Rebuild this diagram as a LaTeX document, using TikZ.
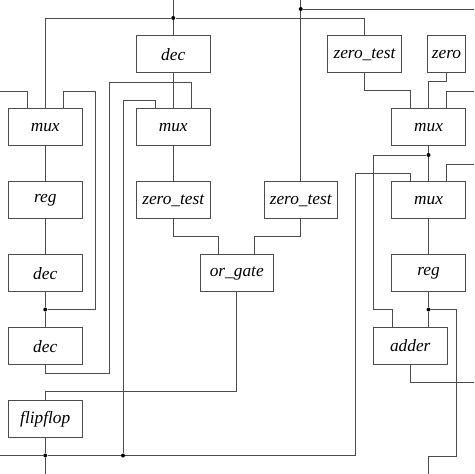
\documentclass[tikz,border=0pt]{standalone}
\usepackage{fontspec}
\setmainfont{Liberation Serif}
\usetikzlibrary{positioning}

\begin{document}
\begin{tikzpicture}[
    x=0.75pt, y=-0.75pt,
    node distance=27pt and 41pt,
    block/.style={rectangle, draw=black!70, line width=0.6pt, inner sep=0pt, outer sep=0pt, minimum width=55.2pt, minimum height=27.75pt, align=center, font=\fontsize{13}{15}\selectfont\itshape},
    wire/.style={draw=black!70, line width=0.6pt},
    junction/.style={circle, fill=black, inner sep=0pt, minimum size=3pt}
]
    \useasboundingbox (0,0) rectangle (474,474);

    % left column
    \node[block] (mux1) at (45.25,127.25) {mux};
    \node[block, below=of mux1] (reg1) {reg};
    \node[block, below=of reg1] (dec1) {dec};
    \node[block, below=of dec1] (dec2) {dec};
    \node[block, below=of dec2] (flipflop) {flipflop};

    % middle
    \node[block] (dec3) at (173.25,54.25) {dec};
    \node[block, below=of dec3] (mux2) {mux};
    \node[block, below=of mux2] (ztest1) {zero\_test};
    \node[block] (ztest2) at (300.75,200.25) {zero\_test};
    \node[block] (orgate) at (236.75,273) {or\_gate};

    % right column
    \node[block] (ztest3) at (364.5,54.25) {zero\_test};
    \node[block, minimum width=28.5pt] (zero) at (446.5,54.25) {zero};
    \node[block] (mux3) at (428.5,127.25) {mux};
    \node[block, below=of mux3] (mux4) {mux};
    \node[block, below=of mux4] (reg2) {reg};
    \node[block] (adder) at (410.25,346) {adder};

    % junctions
    \node[junction] (jtop) at (173.25,18) {};
    \node[junction] (jctl) at (300.75,9) {};
    \node[junction] (jdec) at (45.25,309.5) {};
    \node[junction] (jclk) at (45.25,455.5) {};
    \node[junction] (jbus) at (123,455.5) {};
    \node[junction] (jmux) at (428.5,155) {};
    \node[junction] (jreg) at (428.5,309.5) {};

    % picture edges
    \coordinate (topa) at (173.25,0);
    \coordinate (topb) at (300.75,0);
    \coordinate (edgea) at (474,9);
    \coordinate (edgeb) at (0,91);
    \coordinate (edgec) at (474,91);
    \coordinate (edged) at (474,164);
    \coordinate (edgee) at (474,382.5);
    \coordinate (edgef) at (0,455.5);
    \coordinate (edgeg) at (45.25,474);
    \coordinate (edgeh) at (428.5,474);
    \coordinate (bend) at (373.5,309.5);

    % left column wires
    \draw[wire] (mux1) -- (reg1);
    \draw[wire] (reg1) -- (dec1);
    \draw[wire] (dec1) -- (jdec) -- (dec2);
    \draw[wire] (flipflop) -- (jclk) -- (edgeg);
    \draw[wire] ([xshift=-13.5pt]mux1.north) |- (edgeb);
    \draw[wire] ([xshift=13.5pt]mux1.north) -- ++(0,-17.5) -- ++(32.5,0) |- (jdec);
    \draw[wire] (mux1.north) |- (jtop);
    \draw[wire] (dec2.south) -- ++(0,9) -- ++(64.5,0) |- ([xshift=13.5pt,yshift=20pt]mux2.north) -- ([xshift=13.5pt]mux2.north);
    \draw[wire] ([xshift=-13.5pt]mux2.north) -- ++(0,-8.5) -| (jbus);

    % middle wires
    \draw[wire] (topa) -- (jtop) -- (dec3);
    \draw[wire] (jtop) -| (ztest3.north);
    \draw[wire] (dec3) -- (mux2);
    \draw[wire] (mux2) -- (ztest1);
    \draw[wire] (ztest1.south) -- ++(0,18) -| ([xshift=-13.5pt]orgate.north);
    \draw[wire] (ztest2.south) -- ++(0,18) -| ([xshift=13.5pt]orgate.north);
    \draw[wire] (topb) -- (jctl) -- (ztest2);
    \draw[wire] (jctl) -- (edgea);
    \draw[wire] (orgate.south) |- ([yshift=6.75pt]flipflop.north) -- (flipflop.north);

    % bottom bus
    \draw[wire] (edgef) -- (jclk) -- (jbus) -- ++(232.5,0) |- ([xshift=-13.5pt,yshift=6.4pt]mux4.north) -- ([xshift=-13.5pt]mux4.north);

    % right column wires
    \draw[wire] (ztest3.south) -- ++(0,18) -| ([xshift=-13.5pt]mux3.north);
    \draw[wire] (zero.south) -- ++(0,9) -| (mux3.north);
    \draw[wire] ([xshift=13.5pt]mux3.north) |- (edgec);
    \draw[wire] ([xshift=13.5pt]mux4.north) |- (edged);
    \draw[wire] (mux3) -- (jmux) -- (mux4);
    \draw[wire] (mux4) -- (reg2);
    \draw[wire] (reg2) -- (jreg) -- ([xshift=13.7pt]adder.north);
    \draw[wire] (jmux) -| (bend) -| ([xshift=-13.7pt]adder.north);
    \draw[wire] (jreg) -- ++(27.5,0) |- ([yshift=13.5pt]edgeh) -- (edgeh);
    \draw[wire] (adder.south) |- (edgee);
\end{tikzpicture}
\end{document}
